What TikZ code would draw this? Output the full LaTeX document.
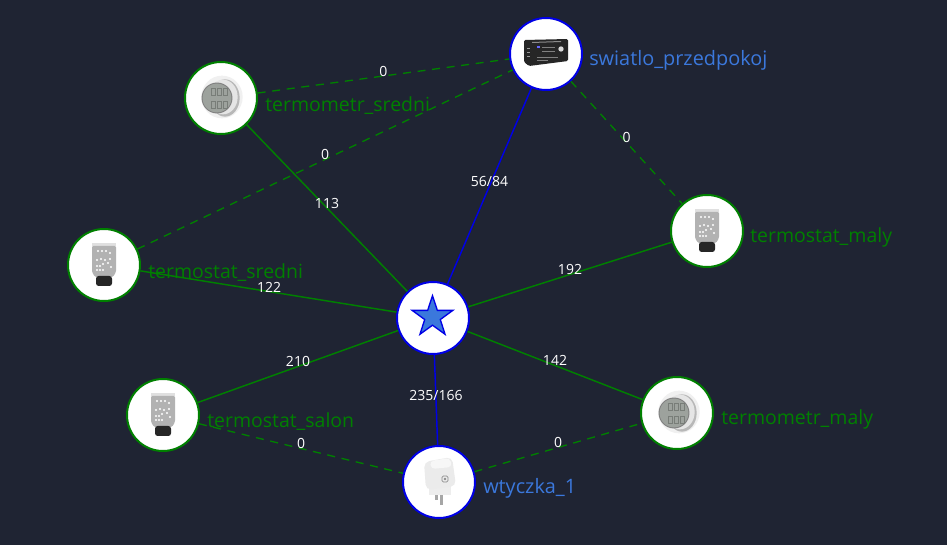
\documentclass[tikz,border=0pt]{standalone}
\usepackage{fontspec}
\setmainfont{Open Sans}
\usetikzlibrary{shapes.geometric}
\definecolor{panelbg}{HTML}{1F2433}
\definecolor{okgreen}{HTML}{008000}
\definecolor{linkblue}{HTML}{0000E6}
\definecolor{namelblue}{HTML}{3B78DC}
\definecolor{dialgrey}{HTML}{9DA29D}
\definecolor{digitgrey}{HTML}{787D78}
\tikzset{
	device/.style={circle,fill=white,draw=#1,line width=1.5pt,minimum size=54pt,inner sep=0pt},
	linksolid/.style={draw=#1,line width=1.1pt},
	linkdash/.style={draw=okgreen,line width=1pt,dash pattern=on 6pt off 5pt},
	flow/.style={midway,yshift=3.5pt,text=white,font=\fontsize{10.5}{12}\selectfont,inner sep=0pt},
	devname/.style={anchor=west,text=#1,font=\fontsize{14.9}{17}\selectfont,inner sep=0pt},
	greenname/.style={anchor=west,text=okgreen,font=\fontsize{14.6}{17}\selectfont,inner sep=0pt}
}
\def\thermostat(#1){
	\begin{scope}[shift={(#1)}]
		\fill[black!12] (-12, -22) rectangle (12, -18);
		\fill[black!30,rounded corners=1pt] (-12, -19) -- (12, -19) -- (12, 7) -- (9, 12) -- (-9, 12) -- (-12, 7) -- cycle;
		\fill[black!85,rounded corners=2pt] (-8, 11) rectangle (8, 21);
		\foreach \dotx/\doty in {-6/-14, -2/-14, 2/-14, 6/-12, 6/-6, 4/-2, 7/2, -7/-5, -3/-6, 1/-5, -7/1, -4/1, -1/-1, -7/5, -4/5, -1/5}
			\fill[white] (\dotx, \doty) circle (0.9pt);
	\end{scope}
}
\def\thermometer(#1){
	\begin{scope}[shift={(#1)}]
		\fill[black!6] (2, -1) ellipse (15.5pt and 16pt);
		\fill[black!28] (5, 0) ellipse (11pt and 14pt);
		\fill[black!10] (3, -1) ellipse (11pt and 13pt);
		\fill[black!50] (-3, 0) circle (11.6pt);
		\fill[dialgrey] (-3, 0) circle (10.8pt);
		\foreach \rowy in {-10, 3}
			\foreach \digx in {-9, -3, 3}
				\draw[digitgrey,line width=0.5pt] (\digx, \rowy) rectangle ++(4, 7);
	\end{scope}
}
\def\driverbox(#1){
	\begin{scope}[shift={(#1)}]
		\fill[black!85,rounded corners=1pt] (-22, -14) -- (22, -15) -- (22, 7) -- (-17, 12) -- (-22, 8) -- cycle;
		\fill[black!45] (-14, -12) -- (15, -13) -- (15, -12) -- (-14, -11) -- cycle;
		\fill[blue!60] (-9, -8) rectangle (-6, -6);
		\fill[black!15] (15, -5) circle (2pt);
		\fill[black!50] (-4, -7) rectangle (9, -6);
		\fill[black!50] (-4, -3) rectangle (9, -2);
		\fill[black!50] (-9, 3) rectangle (12, 4);
		\fill[black!50] (-9, 6) rectangle (2, 7);
		\foreach \ledy in {-6, -2, 2}
			\fill[black!40] (-19, \ledy) rectangle (-16, \ledy+1.5);
	\end{scope}
}
\def\plugbox(#1){
	\begin{scope}[shift={(#1)}]
		\fill[black!35] (-4, 6) rectangle (-1, 18);
		\fill[black!35] (1, 8) rectangle (4, 23);
		\fill[black!7] (-10, 4) rectangle (12, 13);
		\fill[black!8,rounded corners=4pt] (-15, -20) -- (13, -25) -- (17, 4) -- (-13, 8) -- cycle;
		\fill[black!3,rounded corners=3pt] (-9, -21) -- (11, -24) -- (13, -15) -- (-8, -13) -- cycle;
		\draw[black!45,line width=0.5pt,rounded corners=1pt] (3, -6) rectangle (9, 0);
		\fill[black!45] (6, -3) circle (1pt);
	\end{scope}
}

\begin{document}
\begin{tikzpicture}[x=0.75pt,y=-0.75pt]
	\fill[panelbg] (0, 0) rectangle (947, 545);
	\useasboundingbox (0, 0) rectangle (947, 545);

	\node[device=linkblue] (hub) at (433, 318) {};
	\node[device=linkblue] (swiatlo) at (546, 54) {};
	\node[device=linkblue] (wtyczka) at (439, 482) {};
	\node[device=okgreen] (msredni) at (221, 98) {};
	\node[device=okgreen] (ssredni) at (104, 265) {};
	\node[device=okgreen] (smaly) at (707, 231) {};
	\node[device=okgreen] (ssalon) at (163, 415) {};
	\node[device=okgreen] (mmaly) at (677, 413) {};

	\draw[linksolid=okgreen] (hub) -- node[flow] {113} (msredni);
	\draw[linksolid=linkblue] (hub) -- node[flow] {56/84} (swiatlo);
	\draw[linksolid=okgreen] (hub) -- node[flow] {192} (smaly);
	\draw[linksolid=okgreen] (hub) -- node[flow,xshift=0.5pt,yshift=-0.8pt] {122} (ssredni);
	\draw[linksolid=okgreen] (hub) -- node[flow] {210} (ssalon);
	\draw[linksolid=okgreen] (hub) -- node[flow] {142} (mmaly);
	\draw[linksolid=linkblue] (hub) -- node[flow] {235/166} (wtyczka);

	\draw[linkdash] (msredni) -- node[flow] {0} (swiatlo);
	\draw[linkdash] (ssredni) -- node[flow] {0} (swiatlo);
	\draw[linkdash] (swiatlo) -- node[flow] {0} (smaly);
	\draw[linkdash] (ssalon) -- node[flow] {0} (wtyczka);
	\draw[linkdash] (wtyczka) -- node[flow] {0} (mmaly);

	\node[star,star points=5,star point ratio=2.6,minimum size=32pt,inner sep=0pt,fill=namelblue,draw=linkblue,line width=1pt] (hubstar) at (432.5, 317) {};

	\driverbox(546, 54)
	\plugbox(439, 482)
	\thermometer(220, 98)
	\thermometer(677, 413)
	\thermostat(104, 265)
	\thermostat(707, 231)
	\thermostat(163, 415)

	\node[devname=namelblue] (swiatlolabel) at (589, 60.5) {swiatlo\_przedpokoj};
	\node[devname=namelblue] (wtyczkalabel) at (483, 488.5) {wtyczka\_1};
	\node[greenname] (msrednilabel) at (265, 106) {termometr\_sredni};
	\node[greenname] (ssrednilabel) at (148, 272.5) {termostat\_sredni};
	\node[greenname] (smalylabel) at (750, 237) {termostat\_maly};
	\node[greenname] (ssalonlabel) at (207, 422) {termostat\_salon};
	\node[greenname] (mmalylabel) at (721, 419) {termometr\_maly};
\end{tikzpicture}
\end{document}
